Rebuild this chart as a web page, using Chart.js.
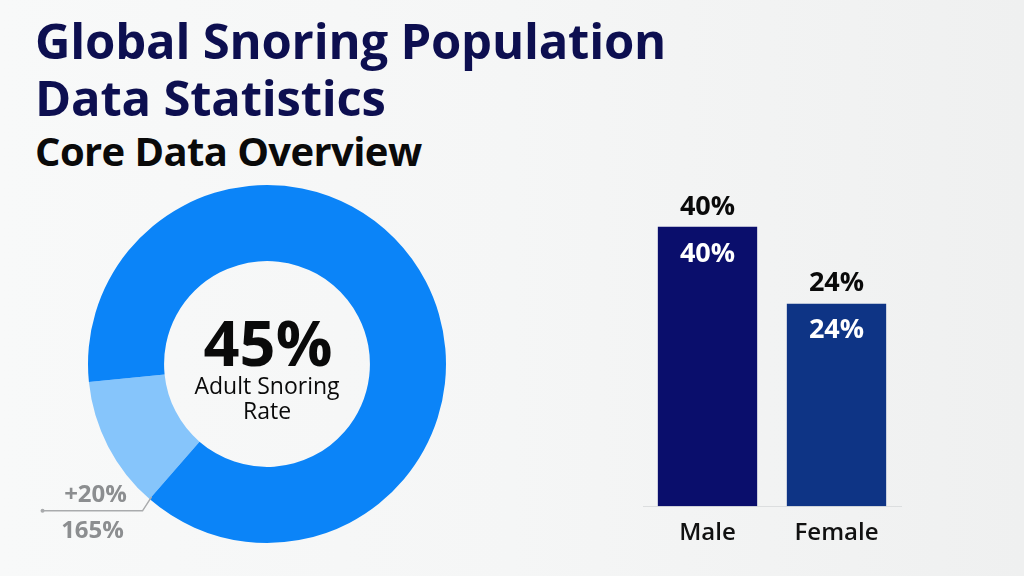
<!DOCTYPE html>
<html>
<head>
<meta charset="utf-8">
<script src="https://cdn.jsdelivr.net/npm/chart.js@4/dist/chart.umd.min.js"></script>
<style>
  html, body { margin:0; padding:0; }
  body { width:1024px; height:576px; overflow:hidden; position:relative;
         background: linear-gradient(90deg, #f8f9f9 0%, #f5f6f6 50%, #eff0f0 100%);
         font-family: "Open Sans", "Noto Sans", sans-serif; }
  .t1 { position:absolute; left:35px; top:12px; font-weight:700; font-size:49px; line-height:57px;
        color:#0d0f50; letter-spacing:-0.2px; white-space:nowrap; }
  .t2 { position:absolute; left:35px; top:127px; font-weight:700; font-size:40px; line-height:48px;
        color:#0a0a0a; letter-spacing:-0.6px; white-space:nowrap; }
  #dwrap { position:absolute; left:20px; top:175px; width:494px; height:378px; }
  #bwrap { position:absolute; left:600px; top:140px; width:340px; height:421px; }
</style>
</head>
<body>
<div class="t1">Global Snoring Population<br>Data Statistics</div>
<div class="t2">Core Data Overview</div>
<div id="dwrap"><canvas id="donut"></canvas></div>
<div id="bwrap"><canvas id="bars"></canvas></div>
<script>
// ---- data ----
const ringLabels = ['Highlighted share', 'Remaining share'];
const ringValues = [12, 88];
const ringCenterValue = '45%';
const ringCenterCaption = ['Adult Snoring', 'Rate'];
const calloutTexts = ['+20%', '165%'];

const barCategories = ['Male', 'Female'];
const barValues = [40, 29];
const barValueLabels = ['40%', '24%'];

const FONT = '"Open Sans", "Noto Sans", sans-serif';

// ---- doughnut ----
const donutPlugin = {
  id: 'donutDecor',
  afterDraw(chart) {
    const ctx = chart.ctx;
    const arc = chart.getDatasetMeta(0).data[0];
    const cx = arc.x, cy = arc.y;
    ctx.save();
    ctx.textAlign = 'center';
    ctx.textBaseline = 'alphabetic';
    ctx.fillStyle = '#0a0a0a';
    ctx.font = '700 63px ' + FONT;
    ctx.fillText(ringCenterValue, cx + 1, cy + 2);
    ctx.font = '400 23px ' + FONT;
    ctx.fillText(ringCenterCaption[0], cx, cy + 30);
    ctx.fillText(ringCenterCaption[1], cx, cy + 55);

    // callout leader from start edge of the highlighted slice
    const a = arc.startAngle;
    const r = arc.outerRadius - 3;
    const sx = cx + Math.cos(a) * r, sy = cy + Math.sin(a) * r;
    const kx = sx - 9, ky = sy + 14;
    ctx.strokeStyle = '#a9abad';
    ctx.lineWidth = 1.5;
    ctx.beginPath();
    ctx.moveTo(sx, sy);
    ctx.lineTo(kx, ky);
    ctx.lineTo(kx - 100, ky);
    ctx.stroke();
    ctx.fillStyle = '#a9abad';
    ctx.beginPath();
    ctx.arc(kx - 100, ky, 2, 0, Math.PI * 2);
    ctx.fill();

    ctx.fillStyle = '#8c8e90';
    ctx.font = '700 24px ' + FONT;
    ctx.fillText(calloutTexts[0], kx - 47, ky - 9);
    ctx.fillText(calloutTexts[1], kx - 50, ky + 27);
    ctx.restore();
  }
};

new Chart(document.getElementById('donut'), {
  type: 'doughnut',
  data: {
    labels: ringLabels,
    datasets: [{
      data: ringValues,
      backgroundColor: ['#86c5fb', '#0b84f8'],
      borderWidth: 0,
      hoverOffset: 0
    }]
  },
  options: {
    responsive: true,
    maintainAspectRatio: false,
    animation: false,
    rotation: 221,
    cutout: '57.5%',
    layout: { padding: { top: 10, bottom: 10 } },
    plugins: { legend: { display: false }, tooltip: { enabled: false } }
  },
  plugins: [donutPlugin]
});

// ---- bars ----
const barLabelPlugin = {
  id: 'barLabels',
  afterDatasetsDraw(chart) {
    const ctx = chart.ctx;
    const meta = chart.getDatasetMeta(0);
    ctx.save();
    ctx.textAlign = 'center';
    ctx.textBaseline = 'middle';
    ctx.font = '700 27px ' + FONT;
    meta.data.forEach((bar, i) => {
      ctx.fillStyle = '#0a0a0a';
      ctx.fillText(barValueLabels[i], bar.x, bar.y - 20);
      ctx.fillStyle = '#ffffff';
      ctx.fillText(barValueLabels[i], bar.x, bar.y + 27);
    });
    ctx.restore();
  }
};

new Chart(document.getElementById('bars'), {
  type: 'bar',
  data: {
    labels: barCategories,
    datasets: [{
      data: barValues,
      backgroundColor: ['#0a0e6c', '#0e3485'],
      borderWidth: 0,
      barPercentage: 0.77,
      categoryPercentage: 1.0
    }]
  },
  options: {
    responsive: true,
    maintainAspectRatio: false,
    animation: false,
    layout: { padding: { left: 43, right: 39, top: 17, bottom: 0 } },
    plugins: { legend: { display: false }, tooltip: { enabled: false } },
    scales: {
      y: { display: false, min: 0, max: 50 },
      x: {
        grid: { display: false, drawTicks: false },
        border: { display: true, color: '#dcdedf', width: 1 },
        ticks: { color: '#111111', font: { family: FONT, size: 24, weight: '600' }, padding: 13 }
      }
    }
  },
  plugins: [barLabelPlugin]
});
</script>
</body>
</html>
